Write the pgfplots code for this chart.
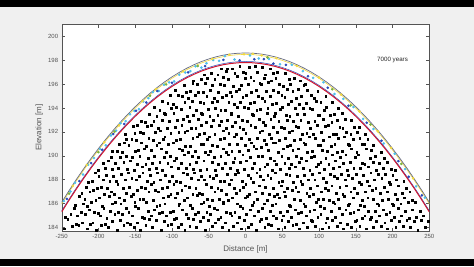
\documentclass[border=0pt]{standalone}
\usepackage{pgfplots}
\pgfplotsset{compat=1.18}
\usepackage{pgfplotstable}
\usepackage{fontspec}
\setmainfont{Liberation Sans}
\definecolor{figbg}{rgb}{0.94,0.94,0.94}
\definecolor{axgray}{rgb}{0.33,0.33,0.33}
\definecolor{mcyan}{rgb}{0.30,0.75,0.93}
\definecolor{mblue}{rgb}{0.15,0.28,0.72}
\definecolor{myellow}{rgb}{0.95,0.85,0.25}
\definecolor{mgreen}{rgb}{0.47,0.70,0.25}
\definecolor{mred}{rgb}{0.82,0.08,0.18}
\definecolor{mupper}{rgb}{0.40,0.42,0.50}

\pgfplotstableread{
x y
-250 186.1
-240 187.08
-230 188.02
-220 188.92
-210 189.78
-200 190.6
-190 191.38
-180 192.12
-170 192.82
-160 193.48
-150 194.1
-140 194.68
-130 195.22
-120 195.72
-110 196.18
-100 196.6
-90 196.98
-80 197.32
-70 197.62
-60 197.88
-50 198.1
-40 198.28
-30 198.42
-20 198.52
-10 198.58
0 198.6
10 198.58
20 198.52
30 198.42
40 198.28
50 198.1
60 197.88
70 197.62
80 197.32
90 196.98
100 196.6
110 196.18
120 195.72
130 195.22
140 194.68
150 194.1
160 193.48
170 192.82
180 192.12
190 191.38
200 190.6
210 189.78
220 188.92
230 188.02
240 187.08
250 186.1
}\uppertab

\pgfplotstableread{
x y
-250 185.3
-240 186.28
-230 187.22
-220 188.12
-210 188.98
-200 189.8
-190 190.58
-180 191.32
-170 192.02
-160 192.68
-150 193.3
-140 193.88
-130 194.42
-120 194.92
-110 195.38
-100 195.8
-90 196.18
-80 196.52
-70 196.82
-60 197.08
-50 197.3
-40 197.48
-30 197.62
-20 197.72
-10 197.78
0 197.8
10 197.78
20 197.72
30 197.62
40 197.48
50 197.3
60 197.08
70 196.82
80 196.52
90 196.18
100 195.8
110 195.38
120 194.92
130 194.42
140 193.88
150 193.3
160 192.68
170 192.02
180 191.32
190 190.58
200 189.8
210 188.98
220 188.12
230 187.22
240 186.28
250 185.3
}\redtab

\begin{document}
\begin{tikzpicture}
\fill[black] (0,0) rectangle (474pt,266pt);
\fill[figbg] (0,7pt) rectangle (474pt,259pt);
\begin{axis}[
  at={(61.7pt,35pt)}, anchor=south west,
  width=367.6pt, height=206.7pt, scale only axis,
  xmin=-250, xmax=250, ymin=183.7, ymax=201,
  xtick={-250,-200,...,250}, ytick={184,186,...,200},
  tick align=inside, major tick length=3.5pt,
  axis line style={axgray, line width=0.4pt},
  every tick/.style={axgray, line width=0.4pt},
  tick label style={font=\fontsize{6}{7}\selectfont, text=axgray},
  /pgf/number format/assume math mode=true,
  scaled ticks=false,
  axis background/.style={fill=white},
  xlabel={Distance [m]}, ylabel={Elevation [m]},
  label style={font=\fontsize{8}{9}\selectfont, text=axgray},
  xlabel style={at={(axis description cs:0.5,-0.0885)}, anchor=center},
  ylabel style={at={(axis description cs:-0.061,0.5)}, anchor=center},
]
\addplot[only marks, mark=square*, mark size=0.9pt, black, mark options={line width=0.1pt}] coordinates {
(3,184.0)(8,184.3)(1,185.1)(6,185.5)(9,185.9)(2,186.6)(5,186.8)(0,187.6)(7,188.1)(4,188.4)(9,189.0)(1,189.6)(6,189.9)(3,190.5)(8,191.1)(5,191.4)(0,191.9)(7,192.6)(2,192.9)(9,193.5)(4,194.0)(6,194.4)(1,195.1)(8,195.3)(3,196.0)(7,196.6)(0,196.9)(5,197.4)
(-6,183.9)(-2,184.6)(-9,184.9)(-4,185.6)(-7,185.8)(-1,186.5)(-8,187.1)(-3,187.4)(-5,187.9)(-10,188.6)(-2,188.9)(-7,189.5)(-4,190.1)(-9,190.4)(-1,190.9)(-6,191.5)(-3,192.2)(-8,192.4)(-5,193.0)(-10,193.3)(-2,194.1)(-7,194.5)(-4,194.9)(-9,195.6)(-6,195.9)(-1,196.5)(-3,197.0)(-8,197.5)
(14,183.8)(19,184.5)(12,185.0)(17,185.4)(11,186.1)(16,186.4)(13,187.0)(18,187.5)(10,187.8)(15,188.6)(19,188.9)(12,189.4)(17,190.0)(14,190.6)(11,190.8)(16,191.5)(19,192.0)(13,192.4)(18,193.1)(10,193.4)(15,193.8)(12,194.5)(17,195.0)(14,195.5)(19,196.1)(11,196.3)(16,197.0)(13,197.5)
(-17,184.1)(-12,184.4)(-19,185.0)(-15,185.3)(-11,186.0)(-18,186.5)(-13,186.9)(-16,187.3)(-20,188.0)(-14,188.5)(-11,188.8)(-17,189.5)(-15,189.8)(-19,190.4)(-12,191.0)(-16,191.6)(-13,191.8)(-18,192.5)(-14,192.8)(-20,193.6)(-11,194.1)(-16,194.3)(-19,195.0)(-13,195.4)(-17,195.8)(-12,196.7)(-15,196.9)(-18,197.3)
(26,184.0)(21,184.7)(28,184.8)(23,185.6)(25,186.0)(29,186.3)(22,186.9)(27,187.4)(24,188.0)(20,188.3)(26,189.1)(29,189.3)(23,190.0)(21,190.7)(28,191.0)(25,191.3)(22,192.1)(27,192.6)(24,192.8)(29,193.6)(20,193.9)(26,194.6)(23,194.8)(28,195.4)(21,196.0)(25,196.5)(27,196.8)(22,197.4)
(-23,183.8)(-28,184.4)(-21,185.2)(-26,185.3)(-30,186.1)(-24,186.3)(-27,186.8)(-22,187.6)(-29,187.9)(-25,188.5)(-21,189.0)(-28,189.4)(-24,190.1)(-26,190.3)(-22,191.0)(-29,191.5)(-23,191.9)(-27,192.3)(-25,193.0)(-20,193.5)(-28,193.8)(-23,194.5)(-26,195.1)(-21,195.3)(-29,195.9)(-24,196.4)(-27,197.1)(-25,197.3)
(35,184.2)(31,184.3)(38,185.0)(33,185.4)(36,185.9)(39,186.6)(32,186.8)(37,187.3)(34,188.1)(30,188.4)(36,188.8)(39,189.6)(33,189.8)(31,190.5)(38,191.1)(35,191.5)(32,191.8)(37,192.4)(34,193.1)(39,193.3)(30,194.0)(36,194.3)(33,195.0)(38,195.5)(31,196.2)(35,196.3)(37,196.9)(33,197.3)
(-32,184.0)(-37,184.7)(-34,184.9)(-39,185.5)(-31,186.0)(-36,186.4)(-33,187.1)(-38,187.3)(-35,187.9)(-40,188.4)(-32,189.0)(-37,189.3)(-34,190.0)(-30,190.6)(-39,190.8)(-35,191.4)(-31,192.1)(-36,192.6)(-33,192.9)(-38,193.4)(-34,193.8)(-39,194.6)(-32,194.9)(-37,195.3)(-35,196.0)(-31,196.6)(-38,196.8)(-33,197.3)
(44,183.9)(49,184.6)(42,184.8)(47,185.3)(41,186.0)(46,186.5)(43,186.8)(48,187.5)(45,187.8)(40,188.6)(47,188.9)(42,189.3)(49,190.0)(44,190.3)(41,191.1)(46,191.3)(43,192.0)(48,192.4)(45,192.9)(40,193.6)(47,193.9)(42,194.4)(49,195.1)(44,195.3)(46,196.0)(41,196.5)(43,197.0)
(-46,184.1)(-41,184.4)(-48,185.1)(-43,185.6)(-50,185.8)(-45,186.3)(-42,187.0)(-47,187.4)(-44,188.1)(-49,188.3)(-41,188.8)(-46,189.5)(-43,189.9)(-48,190.4)(-45,190.9)(-50,191.6)(-42,191.8)(-47,192.5)(-44,193.0)(-49,193.3)(-41,194.0)(-46,194.5)(-43,194.8)(-48,195.5)(-45,195.9)(-42,196.4)(-47,196.9)
(53,184.0)(58,184.5)(51,185.0)(56,185.4)(59,185.9)(54,186.6)(52,187.0)(57,187.3)(50,187.9)(55,188.5)(59,189.0)(53,189.4)(58,189.8)(51,190.6)(56,190.8)(54,191.5)(59,192.0)(52,192.3)(57,193.0)(55,193.4)(50,194.1)(58,194.3)(53,194.9)(56,195.6)(51,195.8)(59,196.4)(54,196.9)
(-55,183.8)(-51,184.6)(-58,184.9)(-53,185.3)(-57,186.1)(-52,186.4)(-59,186.8)(-54,187.6)(-56,188.0)(-60,188.3)(-53,188.9)(-57,189.6)(-51,190.1)(-55,190.3)(-58,191.0)(-52,191.4)(-56,191.9)(-60,192.6)(-54,192.8)(-59,193.5)(-51,193.9)(-57,194.4)(-53,195.0)(-58,195.3)(-55,196.1)(-52,196.5)(-56,196.8)
(64,184.2)(69,184.3)(62,184.9)(67,185.5)(61,185.8)(66,186.4)(63,187.1)(68,187.4)(65,187.8)(60,188.4)(67,189.1)(62,189.3)(69,190.0)(64,190.5)(61,190.9)(66,191.3)(63,192.1)(68,192.5)(65,192.9)(60,193.3)(67,194.0)(62,194.6)(69,194.8)(64,195.4)(61,196.0)(66,196.5)
(-67,184.0)(-62,184.5)(-69,185.1)(-64,185.3)(-61,186.0)(-66,186.7)(-63,186.9)(-68,187.3)(-65,188.0)(-70,188.6)(-62,188.8)(-67,189.5)(-64,189.9)(-69,190.4)(-61,191.0)(-66,191.6)(-63,191.8)(-68,192.3)(-65,193.1)(-60,193.6)(-67,193.8)(-62,194.5)(-69,195.1)(-64,195.3)(-66,196.0)(-61,196.4)
(73,183.9)(78,184.4)(71,185.2)(76,185.3)(79,186.0)(74,186.3)(72,187.0)(77,187.6)(75,187.9)(70,188.3)(78,189.0)(73,189.5)(76,189.8)(71,190.6)(79,191.1)(74,191.4)(77,191.8)(72,192.4)(75,193.0)(70,193.5)(78,194.0)(73,194.3)(76,195.0)(71,195.6)(79,195.9)(74,196.3)
(-76,184.1)(-71,184.7)(-78,184.8)(-73,185.6)(-75,185.9)(-79,186.5)(-72,186.8)(-77,187.4)(-74,188.1)(-80,188.5)(-71,188.9)(-76,189.3)(-73,190.0)(-78,190.3)(-75,190.8)(-72,191.5)(-79,192.1)(-74,192.3)(-77,192.9)(-71,193.4)(-76,194.1)(-73,194.6)(-78,194.8)(-75,195.4)(-72,196.1)(-71,196.3)
(84,184.0)(89,184.6)(82,185.0)(87,185.4)(81,185.8)(86,186.6)(83,186.9)(88,187.3)(85,188.0)(80,188.4)(87,188.8)(82,189.6)(89,189.9)(84,190.3)(81,191.0)(86,191.6)(83,191.9)(88,192.3)(85,192.8)(80,193.5)(87,194.0)(82,194.4)(89,195.1)(84,195.5)(81,196.0)
(-83,183.8)(-88,184.3)(-81,185.1)(-86,185.5)(-90,186.0)(-84,186.3)(-87,187.1)(-82,187.5)(-89,187.8)(-85,188.6)(-81,189.0)(-88,189.4)(-84,190.1)(-86,190.5)(-82,190.8)(-89,191.4)(-83,192.0)(-87,192.6)(-85,193.1)(-80,193.3)(-88,193.9)(-83,194.5)(-86,195.0)(-81,195.3)(-84,195.9)
(95,184.1)(91,184.5)(98,184.9)(93,185.5)(96,186.1)(99,186.4)(92,186.8)(97,187.5)(94,188.0)(90,188.5)(96,189.1)(99,189.3)(93,190.0)(91,190.4)(98,190.9)(95,191.5)(92,191.8)(97,192.6)(94,192.9)(99,193.4)(90,193.9)(96,194.6)(93,194.8)(98,195.4)
(-92,184.0)(-97,184.7)(-94,184.8)(-99,185.4)(-91,185.9)(-96,186.5)(-93,186.9)(-98,187.6)(-95,187.9)(-100,188.3)(-92,189.0)(-97,189.6)(-94,189.8)(-90,190.6)(-99,191.1)(-95,191.3)(-91,192.0)(-96,192.4)(-93,193.0)(-98,193.6)(-94,194.1)(-99,194.3)(-92,195.1)(-96,195.5)
(104,183.9)(109,184.4)(102,185.1)(107,185.6)(101,185.8)(106,186.4)(103,187.0)(108,187.3)(105,188.1)(100,188.6)(107,188.9)(102,189.5)(109,189.8)(104,190.5)(101,190.9)(106,191.3)(103,192.0)(108,192.5)(105,193.1)(100,193.4)(107,193.8)(102,194.5)(109,195.0)
(-106,184.2)(-101,184.3)(-108,185.0)(-103,185.3)(-110,186.0)(-105,186.6)(-102,186.8)(-107,187.4)(-104,187.9)(-109,188.4)(-101,189.1)(-106,189.4)(-103,190.0)(-108,190.3)(-105,191.0)(-110,191.6)(-102,191.9)(-107,192.3)(-104,192.9)(-109,193.5)(-101,194.0)(-106,194.4)(-103,195.1)
(113,184.0)(118,184.6)(111,184.8)(116,185.4)(119,186.1)(114,186.3)(112,187.1)(117,187.5)(110,187.8)(115,188.5)(119,189.0)(113,189.3)(118,190.1)(111,190.4)(116,190.8)(114,191.6)(119,191.8)(112,192.6)(117,192.8)(115,193.4)(110,194.1)(118,194.5)
(-115,183.8)(-111,184.5)(-118,185.2)(-113,185.3)(-117,185.9)(-112,186.5)(-119,187.0)(-114,187.3)(-116,188.0)(-120,188.6)(-113,188.8)(-117,189.5)(-111,189.9)(-115,190.6)(-118,191.1)(-112,191.4)(-116,192.1)(-119,192.3)(-114,193.0)(-111,193.6)(-117,193.8)(-113,194.6)
(124,184.1)(129,184.4)(122,184.9)(127,185.6)(121,186.0)(126,186.4)(123,186.9)(128,187.4)(125,188.1)(120,188.3)(127,189.1)(122,189.6)(129,189.9)(124,190.3)(121,191.0)(126,191.5)(123,191.8)(128,192.4)(125,193.0)(120,193.5)(126,194.0)
(-127,184.0)(-122,184.6)(-129,185.0)(-124,185.5)(-121,185.8)(-126,186.3)(-123,187.1)(-128,187.6)(-125,187.8)(-130,188.4)(-122,189.0)(-127,189.4)(-124,190.0)(-129,190.5)(-121,190.9)(-126,191.3)(-123,192.0)(-128,192.6)(-125,192.9)(-121,193.3)(-124,194.1)
(133,183.9)(138,184.3)(131,185.1)(136,185.5)(139,185.9)(134,186.6)(132,186.8)(137,187.5)(135,188.0)(130,188.5)(138,188.8)(133,189.4)(136,190.1)(131,190.4)(139,191.0)(134,191.6)(137,192.0)(132,192.3)(135,193.1)(131,193.6)
(-136,184.2)(-131,184.7)(-138,184.8)(-133,185.4)(-135,186.1)(-139,186.4)(-132,187.0)(-137,187.3)(-134,187.9)(-140,188.6)(-131,188.9)(-136,189.3)(-133,189.8)(-138,190.6)(-135,190.8)(-132,191.5)(-139,191.9)(-134,192.5)(-137,192.8)(-131,193.5)
(144,184.0)(149,184.5)(142,185.2)(147,185.3)(141,186.0)(146,186.5)(143,187.0)(148,187.3)(145,188.1)(140,188.4)(147,189.0)(142,189.5)(149,189.9)(144,190.6)(141,190.9)(146,191.4)(143,191.8)(148,192.4)(144,193.0)
(-143,183.8)(-148,184.4)(-141,184.9)(-146,185.6)(-150,185.8)(-144,186.4)(-147,187.1)(-142,187.4)(-149,188.0)(-145,188.3)(-141,189.1)(-148,189.3)(-144,190.0)(-146,190.5)(-142,191.1)(-149,191.3)(-143,192.0)(-147,192.6)(-142,192.9)
(155,184.1)(151,184.6)(158,184.8)(153,185.5)(156,185.9)(159,186.3)(152,186.9)(157,187.6)(154,187.8)(150,188.5)(156,189.0)(159,189.4)(153,190.1)(151,190.3)(158,191.0)(155,191.5)(152,192.0)(154,192.4)
(-152,184.0)(-157,184.3)(-154,185.0)(-159,185.3)(-151,186.1)(-156,186.6)(-153,186.8)(-158,187.4)(-155,188.1)(-160,188.6)(-152,188.8)(-157,189.6)(-154,189.9)(-150,190.4)(-159,190.9)(-155,191.4)(-151,191.9)(-153,192.5)
(164,183.9)(169,184.7)(162,185.0)(167,185.4)(161,185.8)(166,186.5)(163,187.0)(168,187.5)(165,187.9)(160,188.4)(167,189.1)(162,189.3)(169,189.8)(164,190.6)(161,191.0)(166,191.4)(163,191.8)
(-166,184.2)(-161,184.4)(-168,185.1)(-163,185.6)(-170,186.0)(-165,186.3)(-162,186.9)(-167,187.3)(-164,188.0)(-169,188.5)(-161,188.9)(-166,189.5)(-163,190.0)(-168,190.3)(-165,191.1)(-162,191.4)(-164,191.8)
(173,184.0)(178,184.5)(171,184.9)(176,185.4)(179,186.0)(174,186.4)(172,187.1)(177,187.3)(175,188.0)(170,188.6)(178,188.8)(173,189.5)(176,190.0)(171,190.5)(174,190.9)
(-175,183.8)(-171,184.6)(-178,185.1)(-173,185.3)(-177,186.1)(-172,186.5)(-179,186.8)(-174,187.6)(-176,187.9)(-180,188.3)(-173,189.0)(-177,189.4)(-171,189.9)(-175,190.4)(-172,191.0)
(184,184.1)(189,184.4)(182,185.0)(187,185.5)(181,185.9)(186,186.3)(183,186.9)(188,187.4)(185,188.1)(180,188.5)(187,189.0)(182,189.4)(188,189.8)(184,190.3)
(-187,184.0)(-182,184.5)(-189,184.8)(-184,185.4)(-181,186.0)(-186,186.6)(-183,187.0)(-188,187.3)(-185,187.9)(-190,188.4)(-182,188.9)(-187,189.6)(-183,189.9)(-181,190.4)
(193,183.9)(198,184.6)(191,185.1)(196,185.3)(199,186.0)(194,186.4)(192,187.0)(197,187.6)(195,187.8)(190,188.5)(198,188.9)(193,189.5)
(-196,184.2)(-191,184.3)(-198,185.0)(-193,185.6)(-195,185.8)(-199,186.5)(-192,186.8)(-197,187.4)(-194,188.0)(-200,188.3)(-191,189.0)(-194,189.4)
(204,184.0)(209,184.5)(202,184.9)(207,185.6)(201,185.9)(206,186.4)(203,186.8)(208,187.5)(205,188.0)(200,188.4)(203,188.8)
(-203,183.8)(-208,184.4)(-201,185.2)(-206,185.3)(-210,186.1)(-204,186.3)(-207,187.1)(-202,187.3)(-209,187.9)(-205,188.6)(-201,188.8)
(214,184.1)(219,184.6)(212,185.0)(217,185.4)(211,186.0)(216,186.5)(213,186.9)(218,187.3)(215,187.9)
(-216,183.9)(-211,184.3)(-218,185.1)(-213,185.5)(-215,185.8)(-219,186.4)(-212,187.0)(-217,187.4)(-214,187.8)
(224,184.0)(229,184.5)(222,184.8)(227,185.5)(221,186.1)(226,186.3)(223,187.0)
(-227,184.2)(-222,184.4)(-229,185.0)(-224,185.3)(-221,186.0)(-226,186.6)(-223,186.9)
(234,183.8)(239,184.6)(232,184.9)(237,185.4)(231,186.1)
(-236,184.1)(-231,184.3)(-238,185.1)(-233,185.6)(-232,185.9)
(244,184.0)(248,184.5)(242,185.0)
(-247,183.9)(-242,184.7)(-245,184.9)
};
% cyan points
\addplot[only marks, mark=*, mark size=1.1pt, mcyan, mark options={draw=none}] coordinates {
(-247,186.2)(-238,187.0)(-232,187.74)(-221,188.43)(-214,189.24)(-206,189.81)(-198,190.56)(-190,190.88)(-183,191.70)(-176,192.10)(-170,192.72)(-163,192.89)(-157,193.47)(-151,193.74)(-145,193.90)(-139,194.54)(-132,194.82)(-126,195.32)(-118,195.42)(-111,195.94)(-104,196.14)(-97,196.22)(-90,196.78)(-82,196.96)(-75,197.08)(-68,197.48)(-60,197.38)(-53,197.74)(-44,198.01)(-36,197.94)(-28,198.34)(-15,198.06)(6,198.39)(18,198.14)(32,198.10)(47,197.66)(63,197.61)(78,197.08)(92,196.51)(106,196.15)(121,195.17)(133,194.76)(147,194.08)(160,193.08)(174,192.24)(188,191.03)(203,190.16)(217,188.88)(232,187.44)(244,186.49)
};
% blue points
\addplot[only marks, mark=*, mark size=1.1pt, mblue, mark options={draw=none}] coordinates {
(-243,186.39)(-226,187.88)(-210,189.38)(-195,190.50)(-180,191.82)(-165,192.66)(-149,193.76)(-135,194.46)(-120,195.42)(-100,196.10)(-78,196.98)(-55,197.50)(-30,198.02)(-8,197.99)(12,198.07)(25,198.08)(38,197.71)(55,197.60)(85,196.66)(112,195.69)(140,194.18)(165,192.76)(185,191.26)(208,189.55)(222,188.24)(240,186.68)
};
% yellow points
\addplot[only marks, mark=*, mark size=1.1pt, myellow, mark options={draw=none}] coordinates {
(-235,187.46)(-216,189.22)(-192,191.13)(-172,192.53)(-140,194.58)(-122,195.57)(-85,197.06)(-45,198.10)(-22,198.45)(-2,198.50)(10,198.53)(22,198.40)(42,198.17)(70,197.52)(100,196.55)(130,195.12)(155,193.70)(180,192.04)(198,190.66)(228,188.10)
};
% green points
\addplot[only marks, mark=*, mark size=1.1pt, mgreen, mark options={draw=none}] coordinates {
(-240,186.83)(-200,190.30)(-178,192.01)(-130,195.02)(-108,195.97)(-65,197.51)(30,198.22)(118,195.57)(143,194.21)(170,192.62)(212,189.31)
};
\addplot[myellow, line width=0.6pt] table[x=x, y expr=\thisrow{y}-0.12] {\uppertab};
\addplot[mupper, line width=0.7pt] table[x=x, y=y] {\uppertab};
\addplot[mblue, line width=0.5pt] table[x=x, y expr=\thisrow{y}+0.09] {\redtab};
\addplot[mred, line width=1.0pt] table[x=x, y=y] {\redtab};
\node[font=\fontsize{6.2}{7}\selectfont, text=black!85] at (axis cs:200,198) {7000 years};
\end{axis}
\end{tikzpicture}
\end{document}
